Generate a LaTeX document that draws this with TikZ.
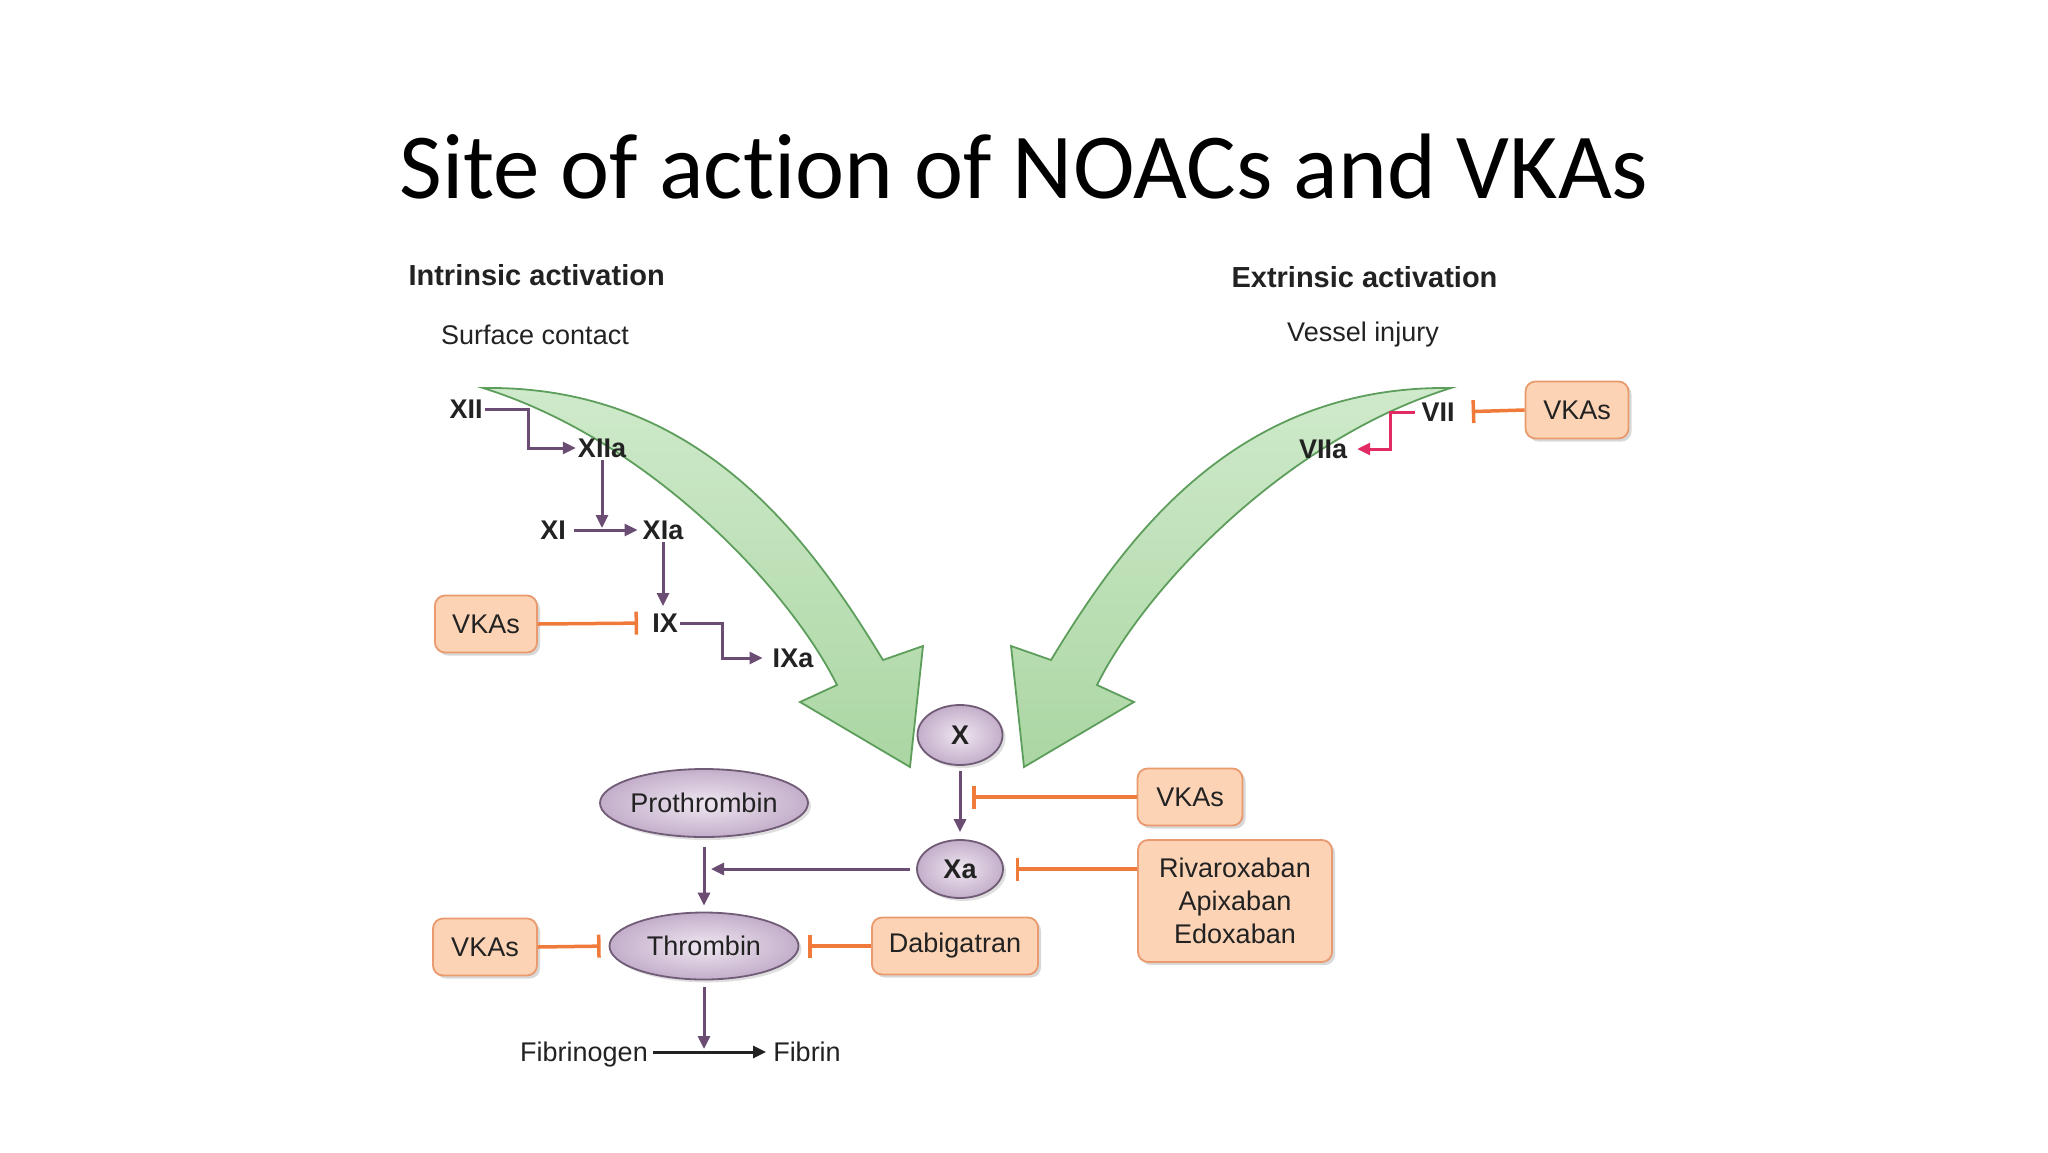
\documentclass[tikz,border=0pt]{standalone}
\usepackage{fontspec}
\setmainfont{Liberation Sans}
\newfontfamily\titlefont[Ligatures=NoCommon]{Carlito}
\usetikzlibrary{arrows.meta,shapes.geometric,shadows,calc}
\definecolor{purp}{HTML}{6B4C72}
\definecolor{orng}{HTML}{F07A3A}
\definecolor{redc}{HTML}{E22B63}
\definecolor{boxfill}{HTML}{FCD3B5}
\definecolor{boxedge}{HTML}{E99A6E}
\definecolor{ellin}{HTML}{EFE7F1}
\definecolor{ellout}{HTML}{C3AECA}
\definecolor{elledge}{HTML}{715C77}
\definecolor{gfill}{HTML}{ABD6A3}
\definecolor{gtop}{HTML}{CFEACB}
\definecolor{gedge}{HTML}{5E9E5C}
\definecolor{txt}{HTML}{222222}
\tikzset{
  lbl/.style={font=\fontsize{27}{30}\selectfont\bfseries, text=txt, inner sep=2pt, text height=19.5pt, text depth=0pt},
  plainlbl/.style={font=\fontsize{27}{30}\selectfont, text=txt, inner sep=2pt, text height=19.5pt, text depth=0pt},
  hdr/.style={font=\fontsize{29}{32}\selectfont\bfseries, text=txt, anchor=west},
  sub/.style={font=\fontsize{27}{30}\selectfont, text=txt},
  drug/.style={draw=boxedge, fill=boxfill, line width=1.8pt, rounded corners=10pt,
    font=\fontsize{27}{33}\selectfont, text=txt, minimum height=57pt, align=center,
    drop shadow={shadow xshift=3pt, shadow yshift=-3pt, opacity=0.3}},
  factor/.style={ellipse, draw=elledge, line width=1.8pt, inner color=ellin, outer color=ellout,
    text=txt, inner sep=0pt,
    drop shadow={shadow xshift=3pt, shadow yshift=-3pt, opacity=0.25}},
  act/.style={draw=purp, line width=3pt, -{Triangle[length=13pt,width=12pt]}},
  redact/.style={draw=redc, line width=3pt, -{Triangle[length=13pt,width=12pt]}},
  blkact/.style={draw=txt, line width=3pt, -{Triangle[length=13pt,width=12pt]}},
  inh/.style={draw=orng, line width=3.5pt, -{Bar[width=23pt]}},
  garrow/.style={draw=gedge, line width=1.8pt, top color=gtop, bottom color=gfill, line join=miter},
}
\begin{document}
\begin{tikzpicture}[x=1pt,y=-1pt]
\useasboundingbox (0,0) rectangle (2048,1152);
\fill[white] (0,0) rectangle (2048,1152);

% title
\node[anchor=base, font=\titlefont\fontsize{93}{100}\selectfont, text=black, inner sep=0pt] (title) at (1024,198) {Site of action of NOACs and VKAs};

% green arrows
\path[garrow] (483,388) .. controls (700,385) and (810,540) .. (883,660) -- (923,646) -- (910,767) -- (800,702) -- (837,685) .. controls (790,590) and (650,440) .. (483,388) -- cycle;
\begin{scope}[xshift=1934pt, xscale=-1]
\path[garrow] (483,388) .. controls (700,385) and (810,540) .. (883,660) -- (923,646) -- (910,767) -- (800,702) -- (837,685) .. controls (790,590) and (650,440) .. (483,388) -- cycle;
\end{scope}

% headers
\node[hdr] (intr) at (405,275) {Intrinsic activation};
\node[sub] (surf) at (535,335) {Surface contact};
\node[hdr] (extr) at (1228,277) {Extrinsic activation};
\node[sub] (vess) at (1363,335) {Vessel injury};

% intrinsic factors
\node[lbl] (XII) at (466,409) {XII};
\node[lbl] (XIIa) at (602,448) {XIIa};
\node[lbl] (XI) at (553,530) {XI};
\node[lbl] (XIa) at (663,530) {XIa};
\node[lbl] (IX) at (665,623) {IX};
\node[lbl] (IXa) at (793,658) {IXa};

% extrinsic
\node[lbl] (VII) at (1438,412) {VII};
\node[lbl] (VIIa) at (1323,449) {VIIa};

% drug boxes
\node[drug, minimum width=102pt] (vkaA) at (486,624) {VKAs};
\node[drug, minimum width=103pt] (vkaB) at (1577,410) {VKAs};
\node[drug, minimum width=105pt] (vkaC) at (1190,797) {VKAs};
\node[drug, minimum width=194pt, minimum height=122pt] (riva) at (1235,901) {Rivaroxaban\\Apixaban\\Edoxaban};
\node[drug, minimum width=166pt] (dabi) at (955,946) {Dabigatran};
\node[drug, minimum width=104pt] (vkaD) at (485,947) {VKAs};

% ellipses
\node[factor, minimum width=85pt, minimum height=60pt, font=\fontsize{27}{30}\selectfont\bfseries] (X) at (960,735) {X};
\node[factor, minimum width=86pt, minimum height=58pt, font=\fontsize{27}{30}\selectfont\bfseries] (Xa) at (960,869) {Xa};
\node[factor, minimum width=189pt, minimum height=68pt, font=\fontsize{27}{30}\selectfont] (Pro) at (704,803) {Prothrombin};
\node[factor, minimum width=189pt, minimum height=67pt, font=\fontsize{27}{30}\selectfont] (Thr) at (704,946) {Thrombin};

% fibrinogen
\node[plainlbl] (Fgn) at (584,1052) {Fibrinogen};
\node[plainlbl] (Fbn) at (807,1052) {Fibrin};

% helper coordinates
\coordinate (c1) at (528,430);
\coordinate (m1) at (602,530);
\coordinate (c2) at (722,640);
\coordinate (c3) at (1390,430);

% intrinsic cascade
\draw[act] (XII.east) -| (c1) |- (XIIa.west);
\draw[act, shorten >=2pt] (XIIa.south) -- (m1);
\draw[act, shorten <=6pt, shorten >=3pt] (XI.east) -- (XIa.west);
\draw[act, shorten >=5pt] (XIa.south) -- (XIa.south |- IX.north);
\draw[act, shorten >=8pt] (IX.east) -| (c2) |- (IXa.west);
\draw[inh, shorten >=12pt] (vkaA.east) -- (IX.west);

% extrinsic
\draw[redact, shorten <=4pt, shorten >=8pt] (VII.west) -| (c3) |- (VIIa.east);
\draw[inh, shorten >=15pt] (vkaB.west) -- (VII.east);

% common pathway
\draw[act, shorten <=5pt, shorten >=7pt] (X.south) -- (Xa.north);
\draw[inh, shorten >=12pt] (vkaC.west) -- (vkaC.west -| X.south);
\draw[inh, shorten >=12pt] (Xa.east -| riva.west) -- (Xa.east);
\draw[act, shorten <=6pt, shorten >=7pt] (Xa.west) -- (Xa.west -| Pro.south);
\draw[act, shorten <=9pt, shorten >=6pt] (Pro.south) -- (Thr.north);
\draw[inh, shorten >=8pt] (vkaD.east) -- (Thr.west);
\draw[inh, shorten >=9pt] (dabi.west) -- (Thr.east);
\draw[act, shorten <=7pt, shorten >=3pt] (Thr.south) -- (Thr.south |- Fgn.east);
\draw[blkact, shorten <=3pt, shorten >=5pt] (Fgn.east) -- (Fbn.west);
\end{tikzpicture}
\end{document}
